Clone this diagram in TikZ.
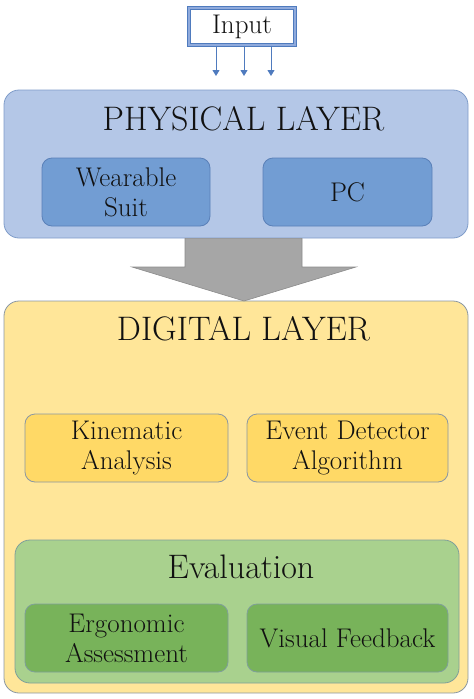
\documentclass[tikz,border=0pt]{standalone}
\usetikzlibrary{calc,arrows.meta}
\definecolor{physfill}{HTML}{B4C7E7}
\definecolor{physdraw}{HTML}{7F9CC9}
\definecolor{bluebox}{HTML}{729DD3}
\definecolor{bluedraw}{HTML}{5A80B8}
\definecolor{arrowfill}{HTML}{A6A6A6}
\definecolor{arrowdraw}{HTML}{8C8C8C}
\definecolor{digfill}{HTML}{FFE699}
\definecolor{digdraw}{HTML}{8A97A3}
\definecolor{yelbox}{HTML}{FFD966}
\definecolor{evalfill}{HTML}{A9D18E}
\definecolor{evaldraw}{HTML}{7F9F9A}
\definecolor{greenbox}{HTML}{78B35A}
\definecolor{inputblue}{HTML}{4F7BBE}
\definecolor{inputlight}{HTML}{8FAADC}
\definecolor{txt}{HTML}{111111}
\tikzset{
  layerbox/.style={rounded corners=15pt, line width=0.8pt, inner sep=0pt},
  smallbox/.style={rounded corners=10pt, line width=0.8pt, inner sep=0pt, align=center,
     text=txt, font=\fontsize{27}{30}\selectfont},
  titletext/.style={text=txt, font=\fontsize{34}{40}\selectfont, inner sep=0pt},
  inarrow/.style={draw=inputblue, line width=0.9pt, -{Triangle[length=6pt,width=7pt]}},
}
\begin{document}
\begin{tikzpicture}[x=1pt,y=-1pt]
\useasboundingbox (0,0) rectangle (474,699);
% Input
\node[draw=inputblue, line width=1.2pt, double=inputlight, double distance=1.8pt, fill=white,
      minimum width=106pt, minimum height=37pt,
      inner sep=0pt, text=txt, font=\fontsize{27}{30}\selectfont] (input) at (242,26.5) {Input};
% Physical layer
\node[layerbox, draw=physdraw, fill=physfill, minimum width=464pt, minimum height=148pt] (phys) at (236,164) {};
\node[titletext] (phystitle) at (243.5,119) {PHYSICAL LAYER};
\node[smallbox, draw=bluedraw, fill=bluebox, minimum width=168pt, minimum height=68pt] (suit) at (126,192) {Wearable\\Suit};
\node[smallbox, draw=bluedraw, fill=bluebox, minimum width=169pt, minimum height=68pt] (pc) at (347.5,192) {PC};
% input arrows
\coordinate (a1) at (216,76);
\coordinate (a2) at (244,76);
\coordinate (a3) at (271,76);
\draw[inarrow] (input.south -| a1) -- (a1);
\draw[inarrow] (input.south -| a2) -- (a2);
\draw[inarrow] (input.south -| a3) -- (a3);
% Digital layer
\node[layerbox, draw=digdraw, fill=digfill, minimum width=464pt, minimum height=392pt] (dig) at (236,497) {};
\node[titletext] (digtitle) at (243.5,329) {DIGITAL LAYER};
\node[smallbox, draw=digdraw, fill=yelbox, minimum width=203pt, minimum height=68pt] (kin) at (126.5,448) {Kinematic\\Analysis};
\node[smallbox, draw=digdraw, fill=yelbox, minimum width=201pt, minimum height=68pt] (event) at (347.5,448) {Event Detector\\Algorithm};
% Evaluation
\node[layerbox, draw=evaldraw, fill=evalfill, minimum width=444pt, minimum height=143pt] (eval) at (237,611.5) {};
\node[titletext] (evaltitle) at (241,567) {Evaluation};
\node[smallbox, draw=evaldraw, fill=greenbox, minimum width=203pt, minimum height=68pt] (ergo) at (126.5,638) {Ergonomic\\Assessment};
\node[smallbox, draw=evaldraw, fill=greenbox, minimum width=201pt, minimum height=68pt] (visual) at (347.5,638) {Visual Feedback};
% big arrow
\coordinate (tip) at (244,301);
\draw[fill=arrowfill, draw=arrowdraw, line width=0.6pt]
  (phys.south -| 185,0) -- (phys.south -| 302,0) -- (302,267) -- (356,267) -- (tip)
  -- (132,267) -- (185,267) -- cycle;
\end{tikzpicture}
\end{document}
